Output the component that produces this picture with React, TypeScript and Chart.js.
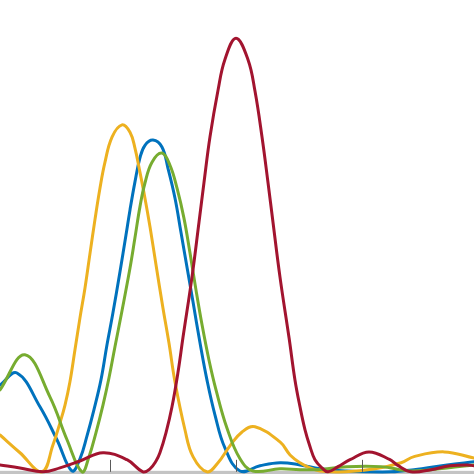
import { useEffect, useRef } from 'react';
import { Chart, registerables } from 'chart.js';

Chart.register(...registerables);

// positions in tick units, intensities normalised to the tallest peak
const blueX = [-1.877, -1.742, -1.559, -1.424, -1.305, -1.241, -1.185, -1.13, -1.074, -1.026, -0.979, -0.923, -0.875, -0.843, -0.804, -0.764, -0.724, -0.66, -0.589, -0.541, -0.485, -0.438, -0.382, -0.342, -0.286, -0.231, -0.167, -0.088, 0.032, 0.191, 0.35, 0.509, 0.668, 0.867, 1.233, 1.416, 1.679, 1.893];
const blueY = [0.2, 0.228, 0.15, 0.074, 0.002, 0.03, 0.083, 0.143, 0.212, 0.293, 0.366, 0.461, 0.546, 0.604, 0.668, 0.724, 0.753, 0.765, 0.749, 0.7, 0.631, 0.553, 0.459, 0.392, 0.297, 0.212, 0.131, 0.055, 0.002, 0.014, 0.021, 0.016, 0.007, 0.002, 0, 0.005, 0.016, 0.023];

const greenX = [-1.877, -1.679, -1.48, -1.344, -1.225, -1.169, -1.114, -1.058, -1.01, -0.963, -0.907, -0.843, -0.804, -0.764, -0.724, -0.668, -0.589, -0.525, -0.469, -0.414, -0.366, -0.318, -0.27, -0.215, -0.159, -0.072, 0.032, 0.135, 0.35, 0.509, 0.644, 0.883, 1.154, 1.392, 1.679, 1.893];
const greenY = [0.189, 0.27, 0.173, 0.074, 0, 0.035, 0.09, 0.154, 0.217, 0.288, 0.371, 0.47, 0.539, 0.611, 0.666, 0.714, 0.735, 0.707, 0.654, 0.585, 0.505, 0.419, 0.339, 0.258, 0.189, 0.101, 0.03, 0.002, 0.007, 0.005, 0.005, 0.012, 0.012, 0.002, 0.009, 0.016];

const orangeX = [-1.877, -1.718, -1.543, -1.456, -1.4, -1.36, -1.321, -1.281, -1.241, -1.201, -1.162, -1.122, -1.082, -1.042, -0.986, -0.907, -0.843, -0.804, -0.764, -0.724, -0.684, -0.636, -0.581, -0.533, -0.485, -0.406, -0.342, -0.231, -0.143, -0.048, 0.048, 0.151, 0.35, 0.43, 0.509, 0.589, 0.668, 0.867, 1.106, 1.313, 1.416, 1.655, 1.893];
const orangeY = [0.085, 0.044, 0, 0.062, 0.113, 0.154, 0.207, 0.281, 0.355, 0.424, 0.502, 0.581, 0.654, 0.714, 0.772, 0.8, 0.783, 0.747, 0.691, 0.631, 0.565, 0.477, 0.378, 0.297, 0.207, 0.097, 0.035, 0, 0.021, 0.06, 0.092, 0.104, 0.069, 0.039, 0.021, 0.009, 0.002, 0, 0.007, 0.021, 0.035, 0.046, 0.032];

const redX = [-1.877, -1.718, -1.535, -1.4, -1.241, -1.058, -0.867, -0.74, -0.684, -0.636, -0.605, -0.557, -0.509, -0.461, -0.422, -0.35, -0.294, -0.255, -0.207, -0.143, -0.088, 0, 0.095, 0.151, 0.207, 0.255, 0.294, 0.35, 0.422, 0.469, 0.509, 0.549, 0.589, 0.628, 0.684, 0.732, 0.811, 0.907, 1.058, 1.225, 1.281, 1.392, 1.551, 1.702, 1.838, 1.893];
const redY = [0.016, 0.009, 0, 0.009, 0.025, 0.044, 0.028, 0, 0.007, 0.025, 0.044, 0.09, 0.15, 0.23, 0.309, 0.449, 0.576, 0.666, 0.772, 0.88, 0.951, 1, 0.951, 0.878, 0.772, 0.666, 0.576, 0.449, 0.309, 0.212, 0.15, 0.097, 0.058, 0.028, 0.009, 0, 0.012, 0.028, 0.046, 0.028, 0.016, 0, 0.005, 0.014, 0.016, 0.014];

const tickValues = [-1, 0, 1];

const toPoints = (xs: number[], ys: number[]) => xs.map((x, i) => ({ x, y: ys[i] }));

// baseline and inward tick marks along the bottom edge
const axisPlugin = {
  id: 'bottomAxis',
  beforeDatasetsDraw(chart: any) {
    const { ctx, chartArea } = chart;
    const y0 = chart.scales.y.getPixelForValue(0);
    ctx.save();
    ctx.fillStyle = '#c4c4c4';
    ctx.fillRect(chartArea.left, y0 - 1, chartArea.right - chartArea.left, chartArea.bottom - y0 + 1);
    ctx.restore();
  },
  afterDatasetsDraw(chart: any) {
    const { ctx } = chart;
    const y0 = chart.scales.y.getPixelForValue(0);
    ctx.save();
    ctx.strokeStyle = '#5a5a5a';
    ctx.lineWidth = 1;
    tickValues.forEach((v) => {
      const px = Math.round(chart.scales.x.getPixelForValue(v)) + 0.5;
      ctx.beginPath();
      ctx.moveTo(px, y0 - 12);
      ctx.lineTo(px, y0);
      ctx.stroke();
    });
    ctx.restore();
  },
};

const line = (data: { x: number; y: number }[], color: string) => ({
  data,
  borderColor: color,
  backgroundColor: color,
  borderWidth: 3,
  pointRadius: 0,
  fill: false,
  tension: 0.4,
  borderJoinStyle: 'round' as const,
  borderCapStyle: 'round' as const,
});

export default function App() {
  const canvasRef = useRef<HTMLCanvasElement | null>(null);

  useEffect(() => {
    if (!canvasRef.current) return;
    const chart = new Chart(canvasRef.current, {
      type: 'line',
      data: {
        datasets: [
          line(toPoints(redX, redY), '#A2142F'),
          line(toPoints(greenX, greenY), '#77AC30'),
          line(toPoints(orangeX, orangeY), '#EDB120'),
          line(toPoints(blueX, blueY), '#0072BD'),
        ],
      },
      options: {
        responsive: false,
        animation: false,
        layout: { padding: 0 },
        scales: {
          x: { type: 'linear', min: -1.877, max: 1.893, display: false },
          y: { min: -0.005, max: 1.088, display: false },
        },
        plugins: {
          legend: { display: false },
          tooltip: { enabled: false },
        },
      },
      plugins: [axisPlugin],
    });
    return () => chart.destroy();
  }, []);

  return (
    <div style={{ position: 'absolute', left: 0, top: 0, width: 474, height: 474, background: '#fff' }}>
      <canvas ref={canvasRef} width={474} height={474} />
    </div>
  );
}
